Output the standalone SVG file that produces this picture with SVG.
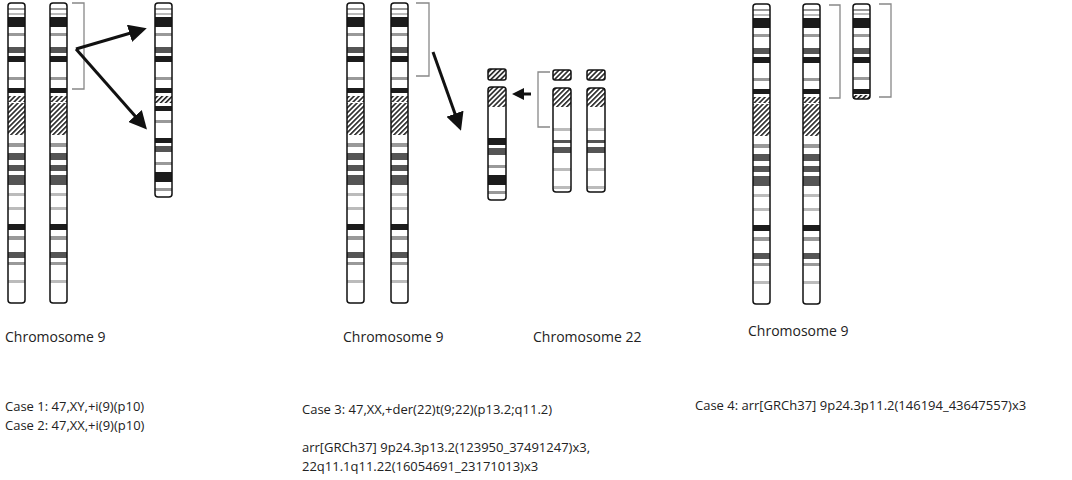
<svg xmlns="http://www.w3.org/2000/svg" width="1072" height="480" viewBox="0 0 1072 480">
<style>
.out{fill:none;stroke:#111;stroke-width:1.5}
.k{fill:#1c1c1c}.d{fill:#555}.g{fill:#999}.l{fill:#bbb}.h{fill:url(#hatch)}
.br{fill:none;stroke:#888;stroke-width:1.3}
.ar{stroke:#111;stroke-width:3;fill:none;marker-end:url(#ah)}
.ar2{stroke:#111;stroke-width:3;fill:none;marker-end:url(#ah2)}
text{font-family:"Open Sans","Liberation Sans",sans-serif;fill:#222}
.t1{font-size:14px}.t2{font-size:13px}
</style>
<defs>
<pattern id="hatch" width="3.5" height="3.5" patternUnits="userSpaceOnUse" patternTransform="rotate(45)">
<rect width="3.5" height="3.5" fill="#fff"/><rect width="1.6" height="3.5" fill="#222"/>
</pattern>
<marker id="ah" markerWidth="6" markerHeight="6" refX="4" refY="3" orient="auto" markerUnits="strokeWidth">
<path d="M0,0 L6,3 L0,6 z" fill="#111"/>
</marker>
<marker id="ah2" markerWidth="4" markerHeight="4" refX="2" refY="2" orient="auto" markerUnits="strokeWidth">
<path d="M0,0 L4,2 L0,4 z" fill="#111"/>
</marker>
<g id="c9">
<rect width="17" height="300" rx="3" fill="#fff"/>
<rect y="5" width="17" height="2" class="g"/><rect y="10" width="17" height="2" class="l"/>
<rect y="14" width="17" height="10" class="k"/><rect y="30" width="17" height="3" class="g"/>
<rect y="44" width="17" height="6" class="d"/><rect y="53" width="17" height="6" class="k"/>
<rect y="74" width="17" height="3" class="g"/><rect y="85" width="17" height="5" class="k"/>
<rect y="93" width="17" height="6" class="h"/><rect y="100" width="17" height="32" class="h"/>
<rect y="140" width="17" height="4" class="g"/><rect y="150" width="17" height="7" class="d"/>
<rect y="162" width="17" height="6" class="d"/><rect y="172" width="17" height="10" class="d"/>
<rect y="190" width="17" height="3" class="l"/><rect y="204" width="17" height="3" class="l"/>
<rect y="221" width="17" height="6" class="k"/><rect y="233" width="17" height="4" class="g"/>
<rect y="249" width="17" height="6" class="d"/><rect y="259" width="17" height="3" class="g"/>
<rect y="277" width="17" height="3" class="l"/>
<rect width="17" height="300" rx="3" class="out"/>
</g>
<g id="c22">
<rect y="0" width="18" height="10" rx="2" class="h" stroke="#111" stroke-width="1.5"/>
<rect y="18" width="18" height="104" rx="3" fill="#fff"/>
<rect y="18" width="18" height="19" class="h"/>
<rect y="58" width="18" height="3" class="l"/><rect y="70" width="18" height="3" class="d"/>
<rect y="77" width="18" height="6" class="d"/><rect y="98" width="18" height="3" class="l"/>
<rect y="116" width="18" height="3" class="l"/>
<rect y="18" width="18" height="104" rx="3" class="out"/>
</g>
</defs>

<g id="case1">
<use href="#c9" x="8" y="3"/>
<use href="#c9" x="50" y="3"/>
<g id="i9">
<rect x="155" y="3" width="17" height="194" rx="3" fill="#fff"/>
<rect x="155" y="8" width="17" height="2" class="g"/><rect x="155" y="13" width="17" height="2" class="l"/>
<rect x="155" y="17" width="17" height="10" class="k"/><rect x="155" y="33" width="17" height="3" class="g"/>
<rect x="155" y="47" width="17" height="6" class="d"/><rect x="155" y="56" width="17" height="6" class="k"/>
<rect x="155" y="77" width="17" height="3" class="g"/><rect x="155" y="88" width="17" height="5" class="k"/>
<rect x="155" y="96" width="17" height="7" class="h"/><rect x="155" y="106" width="17" height="5" class="k"/>
<rect x="155" y="120" width="17" height="3" class="g"/><rect x="155" y="138" width="17" height="5" class="k"/>
<rect x="155" y="146" width="17" height="6" class="d"/><rect x="155" y="162" width="17" height="3" class="g"/>
<rect x="155" y="172" width="17" height="10" class="k"/><rect x="155" y="188" width="17" height="3" class="g"/>
<rect x="155" y="3" width="17" height="194" rx="3" class="out"/>
</g>
</g>

<g id="case3">
<use href="#c9" x="347" y="3"/>
<use href="#c9" x="391" y="3"/>
<g id="der22">
<rect x="488" y="69" width="18" height="11" rx="2" class="h" stroke="#111" stroke-width="1.5"/>
<rect x="488" y="87" width="18" height="113" rx="3" fill="#fff"/>
<rect x="488" y="87" width="18" height="20" class="h"/>
<rect x="488" y="138" width="18" height="7" class="k"/><rect x="488" y="148" width="18" height="7" class="d"/>
<rect x="488" y="165" width="18" height="3" class="g"/><rect x="488" y="175" width="18" height="10" class="k"/>
<rect x="488" y="191" width="18" height="3" class="g"/>
<rect x="488" y="87" width="18" height="113" rx="3" class="out"/>
</g>
<use href="#c22" x="553" y="70"/>
<use href="#c22" x="587" y="70"/>
</g>

<g id="case4">
<use href="#c9" x="753" y="4"/>
<use href="#c9" x="803" y="4"/>
<g id="dup9">
<rect x="853" y="4" width="17" height="95" rx="3" fill="#fff"/>
<rect x="853" y="9" width="17" height="2" class="g"/><rect x="853" y="13" width="17" height="2" class="l"/>
<rect x="853" y="18" width="17" height="10" class="k"/><rect x="853" y="34" width="17" height="3" class="g"/>
<rect x="853" y="48" width="17" height="6" class="d"/><rect x="853" y="57" width="17" height="6" class="k"/>
<rect x="853" y="77" width="17" height="3" class="g"/><rect x="853" y="89" width="17" height="5" class="k"/>
<rect x="853" y="95" width="17" height="4" class="h"/>
<rect x="853" y="4" width="17" height="95" rx="3" class="out"/>
</g>
</g>

<g id="connectors">
<path class="br" d="M72,3 H84 V89 H72"/>
<path class="br" d="M416,3 H429 V76 H416"/>
<path class="br" d="M550,72 H538 V127 H550"/>
<path class="br" d="M829,5 H840 V98 H829"/>
<path class="br" d="M879,4 H891 V97 H879"/>
<path class="ar" d="M76,49 L141,30"/>
<path class="ar" d="M76,49 L143,125"/>
<path class="ar" d="M433,52 L459,125"/>
<path class="ar2" d="M531,94 L518,94"/>
</g>

<text class="t1" x="5" y="342">Chromosome 9</text>
<text class="t1" x="343" y="342">Chromosome 9</text>
<text class="t1" x="533" y="342">Chromosome 22</text>
<text class="t1" x="748" y="336">Chromosome 9</text>
<text class="t2" x="5" y="411">Case 1: 47,XY,+i(9)(p10)</text>
<text class="t2" x="5" y="430">Case 2: 47,XX,+i(9)(p10)</text>
<text class="t2" x="302" y="414">Case 3: 47,XX,+der(22)t(9;22)(p13.2;q11.2)</text>
<text class="t2" x="302" y="452">arr[GRCh37] 9p24.3p13.2(123950_37491247)x3,</text>
<text class="t2" x="302" y="471">22q11.1q11.22(16054691_23171013)x3</text>
<text class="t2" x="695" y="410">Case 4: arr[GRCh37] 9p24.3p11.2(146194_43647557)x3</text>
</svg>
